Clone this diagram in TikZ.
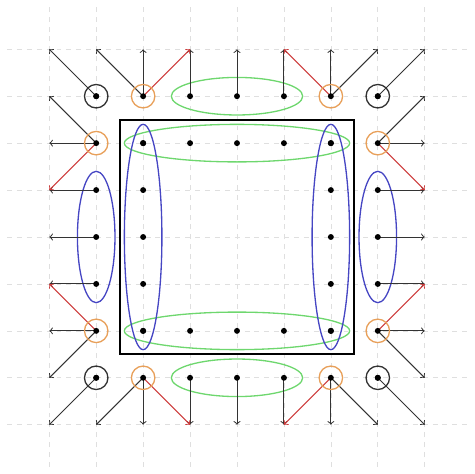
\documentclass[tikz,border=0pt]{standalone}

\newcommand{\M}{9}
\newcommand{\RC}{0.25}
\definecolor{ringorange}{RGB}{232,160,90}
\definecolor{pairgreen}{RGB}{110,215,110}
\definecolor{pairblue}{RGB}{70,70,195}
\definecolor{flipred}{RGB}{205,60,60}

\begin{document}
\begin{tikzpicture}[scale=1,>=to]
        \useasboundingbox (-5.05,-5.05) rectangle (5.05,5.05);
        \draw [gray!25,dashed] (-4.9,-4.9) grid (4.9,4.9);

        \foreach \X in {1,...,\M} {
            \foreach \Y in {1,...,\M} {
                \path (\X-5,\Y-5) coordinate (D\X-\Y);
            }
        }

        % pairs
        \draw [pairgreen,line width=0.8pt] (D5-8) ellipse (1.4 and 0.4);
        \draw [pairgreen,line width=0.8pt] (D5-7) ellipse (2.4 and 0.4);
        \draw [pairgreen,line width=0.8pt] (D5-3) ellipse (2.4 and 0.4);
        \draw [pairgreen,line width=0.8pt] (D5-2) ellipse (1.4 and 0.4);
        \draw [pairblue,line width=0.8pt] (D2-5) ellipse (0.4 and 1.4);
        \draw [pairblue,line width=0.8pt] (D3-5) ellipse (0.4 and 2.4);
        \draw [pairblue,line width=0.8pt] (D7-5) ellipse (0.4 and 2.4);
        \draw [pairblue,line width=0.8pt] (D8-5) ellipse (0.4 and 1.4);

        \draw [line width=1.2pt] (-2.5,-2.5) rectangle (2.5,2.5);

        % straight out
        \foreach \X in {3,...,7} {
            \draw [->,black!80,line width=0.6pt] (D\X-8) -- (D\X-9);
            \draw [->,black!80,line width=0.6pt] (D\X-2) -- (D\X-1);
            \draw [->,black!80,line width=0.6pt] (D2-\X) -- (D1-\X);
            \draw [->,black!80,line width=0.6pt] (D8-\X) -- (D9-\X);
        }

        % corners
        \draw [->,black!80,line width=0.6pt] (D2-8) -- (D1-9);
        \draw [->,black!80,line width=0.6pt] (D8-8) -- (D9-9);
        \draw [->,black!80,line width=0.6pt] (D2-2) -- (D1-1);
        \draw [->,black!80,line width=0.6pt] (D8-2) -- (D9-1);

        % beside corners
        \draw [->,black!80,line width=0.6pt] (D3-8) -- (D2-9);
        \draw [->,black!80,line width=0.6pt] (D7-8) -- (D8-9);
        \draw [->,black!80,line width=0.6pt] (D2-7) -- (D1-8);
        \draw [->,black!80,line width=0.6pt] (D8-7) -- (D9-8);
        \draw [->,black!80,line width=0.6pt] (D2-3) -- (D1-2);
        \draw [->,black!80,line width=0.6pt] (D8-3) -- (D9-2);
        \draw [->,black!80,line width=0.6pt] (D3-2) -- (D2-1);
        \draw [->,black!80,line width=0.6pt] (D7-2) -- (D8-1);

        % inward
        \draw [->,flipred,line width=0.6pt] (D3-8) -- (D4-9);
        \draw [->,flipred,line width=0.6pt] (D7-8) -- (D6-9);
        \draw [->,flipred,line width=0.6pt] (D2-7) -- (D1-6);
        \draw [->,flipred,line width=0.6pt] (D8-7) -- (D9-6);
        \draw [->,flipred,line width=0.6pt] (D2-3) -- (D1-4);
        \draw [->,flipred,line width=0.6pt] (D8-3) -- (D9-4);
        \draw [->,flipred,line width=0.6pt] (D3-2) -- (D4-1);
        \draw [->,flipred,line width=0.6pt] (D7-2) -- (D6-1);

        % marks
        \foreach \P in {D2-8,D8-8,D2-2,D8-2} {
            \draw [black!80,line width=0.8pt] (\P) circle (\RC);
        }
        \foreach \P in {D3-8,D7-8,D2-7,D8-7,D2-3,D8-3,D3-2,D7-2} {
            \draw [ringorange,line width=0.8pt] (\P) circle (\RC);
        }

        \foreach \X in {3,...,7} {
            \fill (D\X-3) circle (1.8pt);
            \fill (D\X-7) circle (1.8pt);
            \fill (D3-\X) circle (1.8pt);
            \fill (D7-\X) circle (1.8pt);
        }
        \foreach \X in {2,...,8} {
            \fill (D\X-2) circle (1.8pt);
            \fill (D\X-8) circle (1.8pt);
            \fill (D2-\X) circle (1.8pt);
            \fill (D8-\X) circle (1.8pt);
        }

    \end{tikzpicture}
\end{document}
